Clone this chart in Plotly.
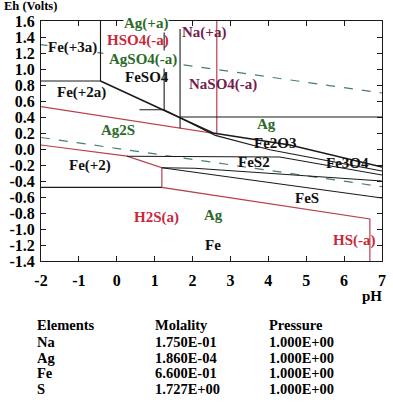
import plotly.graph_objects as go

# ---------------- axis ticks ----------------
x_tick_vals = [-2, -1, 0, 1, 2, 3, 4, 5, 6, 7]
x_tick_text = ["-2", "-1", "0", "1", "2", "3", "4", "5", "6", "7"]
y_tick_vals = [1.6, 1.4, 1.2, 1.0, 0.8, 0.6, 0.4, 0.2, 0.0, -0.2, -0.4, -0.6, -0.8, -1.0, -1.2, -1.4]
y_tick_text = ["1.6", "1.4", "1.2", "1.0", "0.8", "0.6", "0.4", "0.2", "0.0", "-0.2", "-0.4",
               "-0.6", "-0.8", "-1.0", "-1.2", "-1.4"]

# ---------------- boundary lines (pH, Eh) ----------------
fe3_box_ph = [-2.0, -0.43, -0.43]
fe3_box_eh = [0.85, 0.85, 1.6]
fe_oxide_ph = [-0.43, 2.54, 4.57, 7.0]
fe_oxide_eh = [0.85, 0.20, 0.05, -0.225]
ag_upper_ph = [1.67, 7.0]
ag_upper_eh = [0.40, 0.40]
vert_a_ph = [1.25, 1.25]
vert_a_eh = [1.6, 0.48]
vert_b_ph = [1.67, 1.67]
vert_b_eh = [1.5, 0.26]
ag2s_ph = [0.6, 1.25, 2.6, 4.04, 7.0]
ag2s_eh = [0.49, 0.49, 0.17, -0.01, -0.275]
fes2_top_ph = [0.27, 4.3, 7.0]
fes2_top_eh = [-0.09, -0.10, -0.325]
fes2_low_ph = [1.19, 2.06, 7.0]
fes2_low_eh = [-0.234, -0.24, -0.40]
fes_ph = [1.19, 7.0]
fes_eh = [-0.234, -0.6125]
fe2_fe_ph = [-2.0, 1.19]
fe2_fe_eh = [-0.48, -0.48]

red_upper_ph = [-2.0, 2.64, 2.64]
red_upper_eh = [0.53, 0.19, 1.6]
red_lower_ph = [-2.0, 0.27, 1.19, 1.19, 6.68, 6.68]
red_lower_eh = [0.05, -0.09, -0.234, -0.48, -0.875, -1.4]

water_o2_ph = [-2.0, 7.0]
water_o2_eh = [1.305, 0.70]
water_h2_ph = [-2.0, 7.0]
water_h2_eh = [0.144, -0.471]

# ---------------- species labels ----------------
label_text = ["Fe(+3a)", "Ag(+a)", "HSO4(-a)", "AgSO4(-a)", "FeSO4", "Na(+a)", "NaSO4(-a)",
              "Fe(+2a)", "Ag2S", "Ag", "Fe2O3", "FeS2", "Fe3O4", "Fe(+2)", "FeS", "H2S(a)",
              "Ag", "Fe", "HS(-a)"]
label_kind = ["fe", "ag", "s", "ag", "fe", "na", "na", "fe", "ag", "ag", "fe", "fe", "fe", "fe",
              "fe", "s", "ag", "fe", "s"]
label_ph = [-1.18, 0.77, 0.56, 0.69, 0.80, 2.30, 2.80, -0.92, 0.03, 3.94, 4.20, 3.62, 6.10,
            -0.71, 5.02, 1.06, 2.54, 2.54, 6.28]
label_eh = [1.275, 1.575, 1.36, 1.125, 0.90, 1.46, 0.81, 0.71, 0.24, 0.31, 0.075, -0.16, -0.175,
            -0.21, -0.61, -0.86, -0.825, -1.20, -1.1375]
label_bg = [True, True, False, True, False, False, False, False, False, False, False, False, False,
            False, False, False, False, False, False]

# ---------------- table ----------------
table_header = ["Elements", "Molality", "Pressure"]
elements = ["Na", "Ag", "Fe", "S"]
molality = ["1.750E-01", "1.860E-04", "6.600E-01", "1.727E+00"]
pressure = ["1.000E+00", "1.000E+00", "1.000E+00", "1.000E+00"]

FONT = "Liberation Serif"
BLACK = "#1a1a1a"
RED_LINE = "#b8404e"
DASH = "#4a7d74"
kind_color = {"fe": "#111111", "ag": "#2b6a2b", "s": "#c8283c", "na": "#741c4e"}

fig = go.Figure()


def add_line(px, ey, color, width=1.1, dash="solid"):
    fig.add_trace(go.Scatter(x=px, y=ey, mode="lines",
                             line=dict(color=color, width=width, dash=dash),
                             hoverinfo="skip", showlegend=False))


add_line(water_o2_ph, water_o2_eh, DASH, 1.2, "dash")
add_line(water_h2_ph, water_h2_eh, DASH, 1.2, "dash")
add_line(red_upper_ph, red_upper_eh, RED_LINE, 1.2)
add_line(red_lower_ph, red_lower_eh, RED_LINE, 1.2)
for px, ey, w in [(fe3_box_ph, fe3_box_eh, 1.1), (fe_oxide_ph, fe_oxide_eh, 1.6),
                  (ag_upper_ph, ag_upper_eh, 1.1), (vert_a_ph, vert_a_eh, 1.1),
                  (vert_b_ph, vert_b_eh, 1.1), (ag2s_ph, ag2s_eh, 1.1),
                  (fes2_top_ph, fes2_top_eh, 1.1), (fes2_low_ph, fes2_low_eh, 1.1),
                  (fes_ph, fes_eh, 1.1), (fe2_fe_ph, fe2_fe_eh, 1.1)]:
    add_line(px, ey, BLACK, w)

annotations = []
for t, k, xv, yv, bg in zip(label_text, label_kind, label_ph, label_eh, label_bg):
    annotations.append(dict(x=xv, y=yv, xref="x", yref="y", text=t, showarrow=False,
                            font=dict(family=FONT, size=15, color=kind_color[k], weight="bold"),
                            bgcolor="white" if bg else None, borderpad=0))

# plot area in pixels: x 41..382, y 21..261
W, H = 393, 408
L, R, T, B = 41, 11, 21, 147
pw, ph = W - L - R, H - T - B


def px2paper(xp, yp):
    return (xp - L) / pw, (H - B - yp) / ph


ax, ay = px2paper(2, 6)
annotations.append(dict(x=ax, y=ay, xref="paper", yref="paper", text="Eh (Volts)", showarrow=False,
                        xanchor="left", yanchor="middle",
                        font=dict(family=FONT, size=12.5, color="black", weight="bold")))
ax, ay = px2paper(384, 296)
annotations.append(dict(x=ax, y=ay, xref="paper", yref="paper", text="pH", showarrow=False,
                        xanchor="right", yanchor="middle",
                        font=dict(family=FONT, size=15, color="black", weight="bold")))

col_x = [35, 153, 267]
row_y = [325, 342, 358, 373, 389]
rows = [table_header] + [[e, m, p] for e, m, p in zip(elements, molality, pressure)]
for ri, row in enumerate(rows):
    for ci, txt in enumerate(row):
        ax, ay = px2paper(col_x[ci], row_y[ri])
        annotations.append(dict(x=ax, y=ay, xref="paper", yref="paper", text=txt, showarrow=False,
                                xanchor="left", yanchor="middle",
                                font=dict(family=FONT, size=14.5, color="black", weight="bold")))

axis_common = dict(showgrid=False, zeroline=False, showline=True, linecolor=BLACK, linewidth=1,
                   mirror="ticks", ticks="inside", ticklen=5, tickcolor=BLACK, automargin=False,
                   tickfont=dict(family=FONT, size=16, color="black", weight="bold"))

fig.update_layout(
    width=W, height=H, margin=dict(l=L, r=R, t=T, b=B),
    paper_bgcolor="white", plot_bgcolor="white",
    xaxis=dict(range=[-2, 7], tickvals=x_tick_vals, ticktext=x_tick_text,
               ticklabelstandoff=5, **axis_common),
    yaxis=dict(range=[-1.4, 1.6], tickvals=y_tick_vals, ticktext=y_tick_text,
               ticklabelstandoff=2, **axis_common),
    annotations=annotations,
)

fig.write_html("out.html", config={"displayModeBar": False},
               post_script="document.body.style.margin='0px';")
